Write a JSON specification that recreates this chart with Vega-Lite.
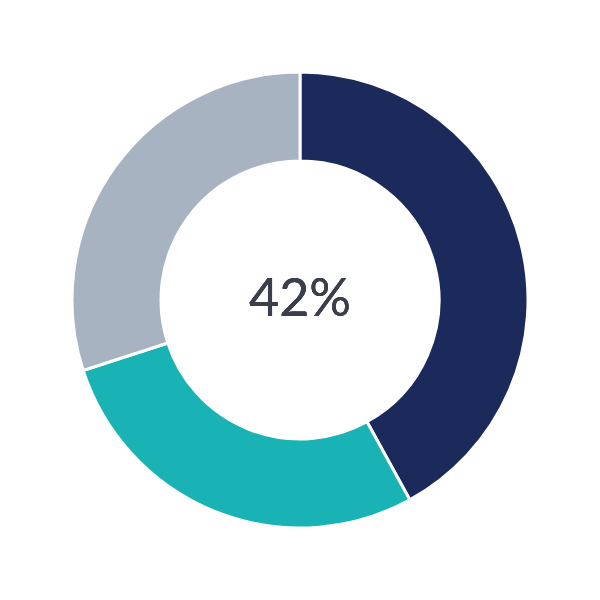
{
  "$schema": "https://vega.github.io/schema/vega-lite/v6.json",
  "width": 600,
  "height": 600,
  "autosize": {"type": "fit", "contains": "padding"},
  "padding": 0,
  "background": "white",
  "data": {
    "values": [
      {"category": "A", "value": 42, "rank": 1},
      {"category": "B", "value": 28, "rank": 2},
      {"category": "C", "value": 30, "rank": 3}
    ]
  },
  "layer": [
    {
      "mark": {"type": "arc", "outerRadius": 228, "innerRadius": 139, "stroke": "white", "strokeWidth": 3},
      "encoding": {
        "theta": {"field": "value", "type": "quantitative", "stack": true},
        "order": {"field": "rank", "type": "quantitative"},
        "color": {
          "field": "category",
          "type": "nominal",
          "scale": {"domain": ["A", "B", "C"], "range": ["#1b2a5a", "#1ab3b5", "#a8b3c2"]},
          "legend": null
        }
      }
    },
    {
      "mark": {"type": "text", "text": "42%", "fontSize": 52, "font": "Lato", "fontWeight": 400, "color": "#3a3f4b", "align": "center", "baseline": "middle"},
      "encoding": {}
    }
  ],
  "config": {"view": {"stroke": null}}
}
